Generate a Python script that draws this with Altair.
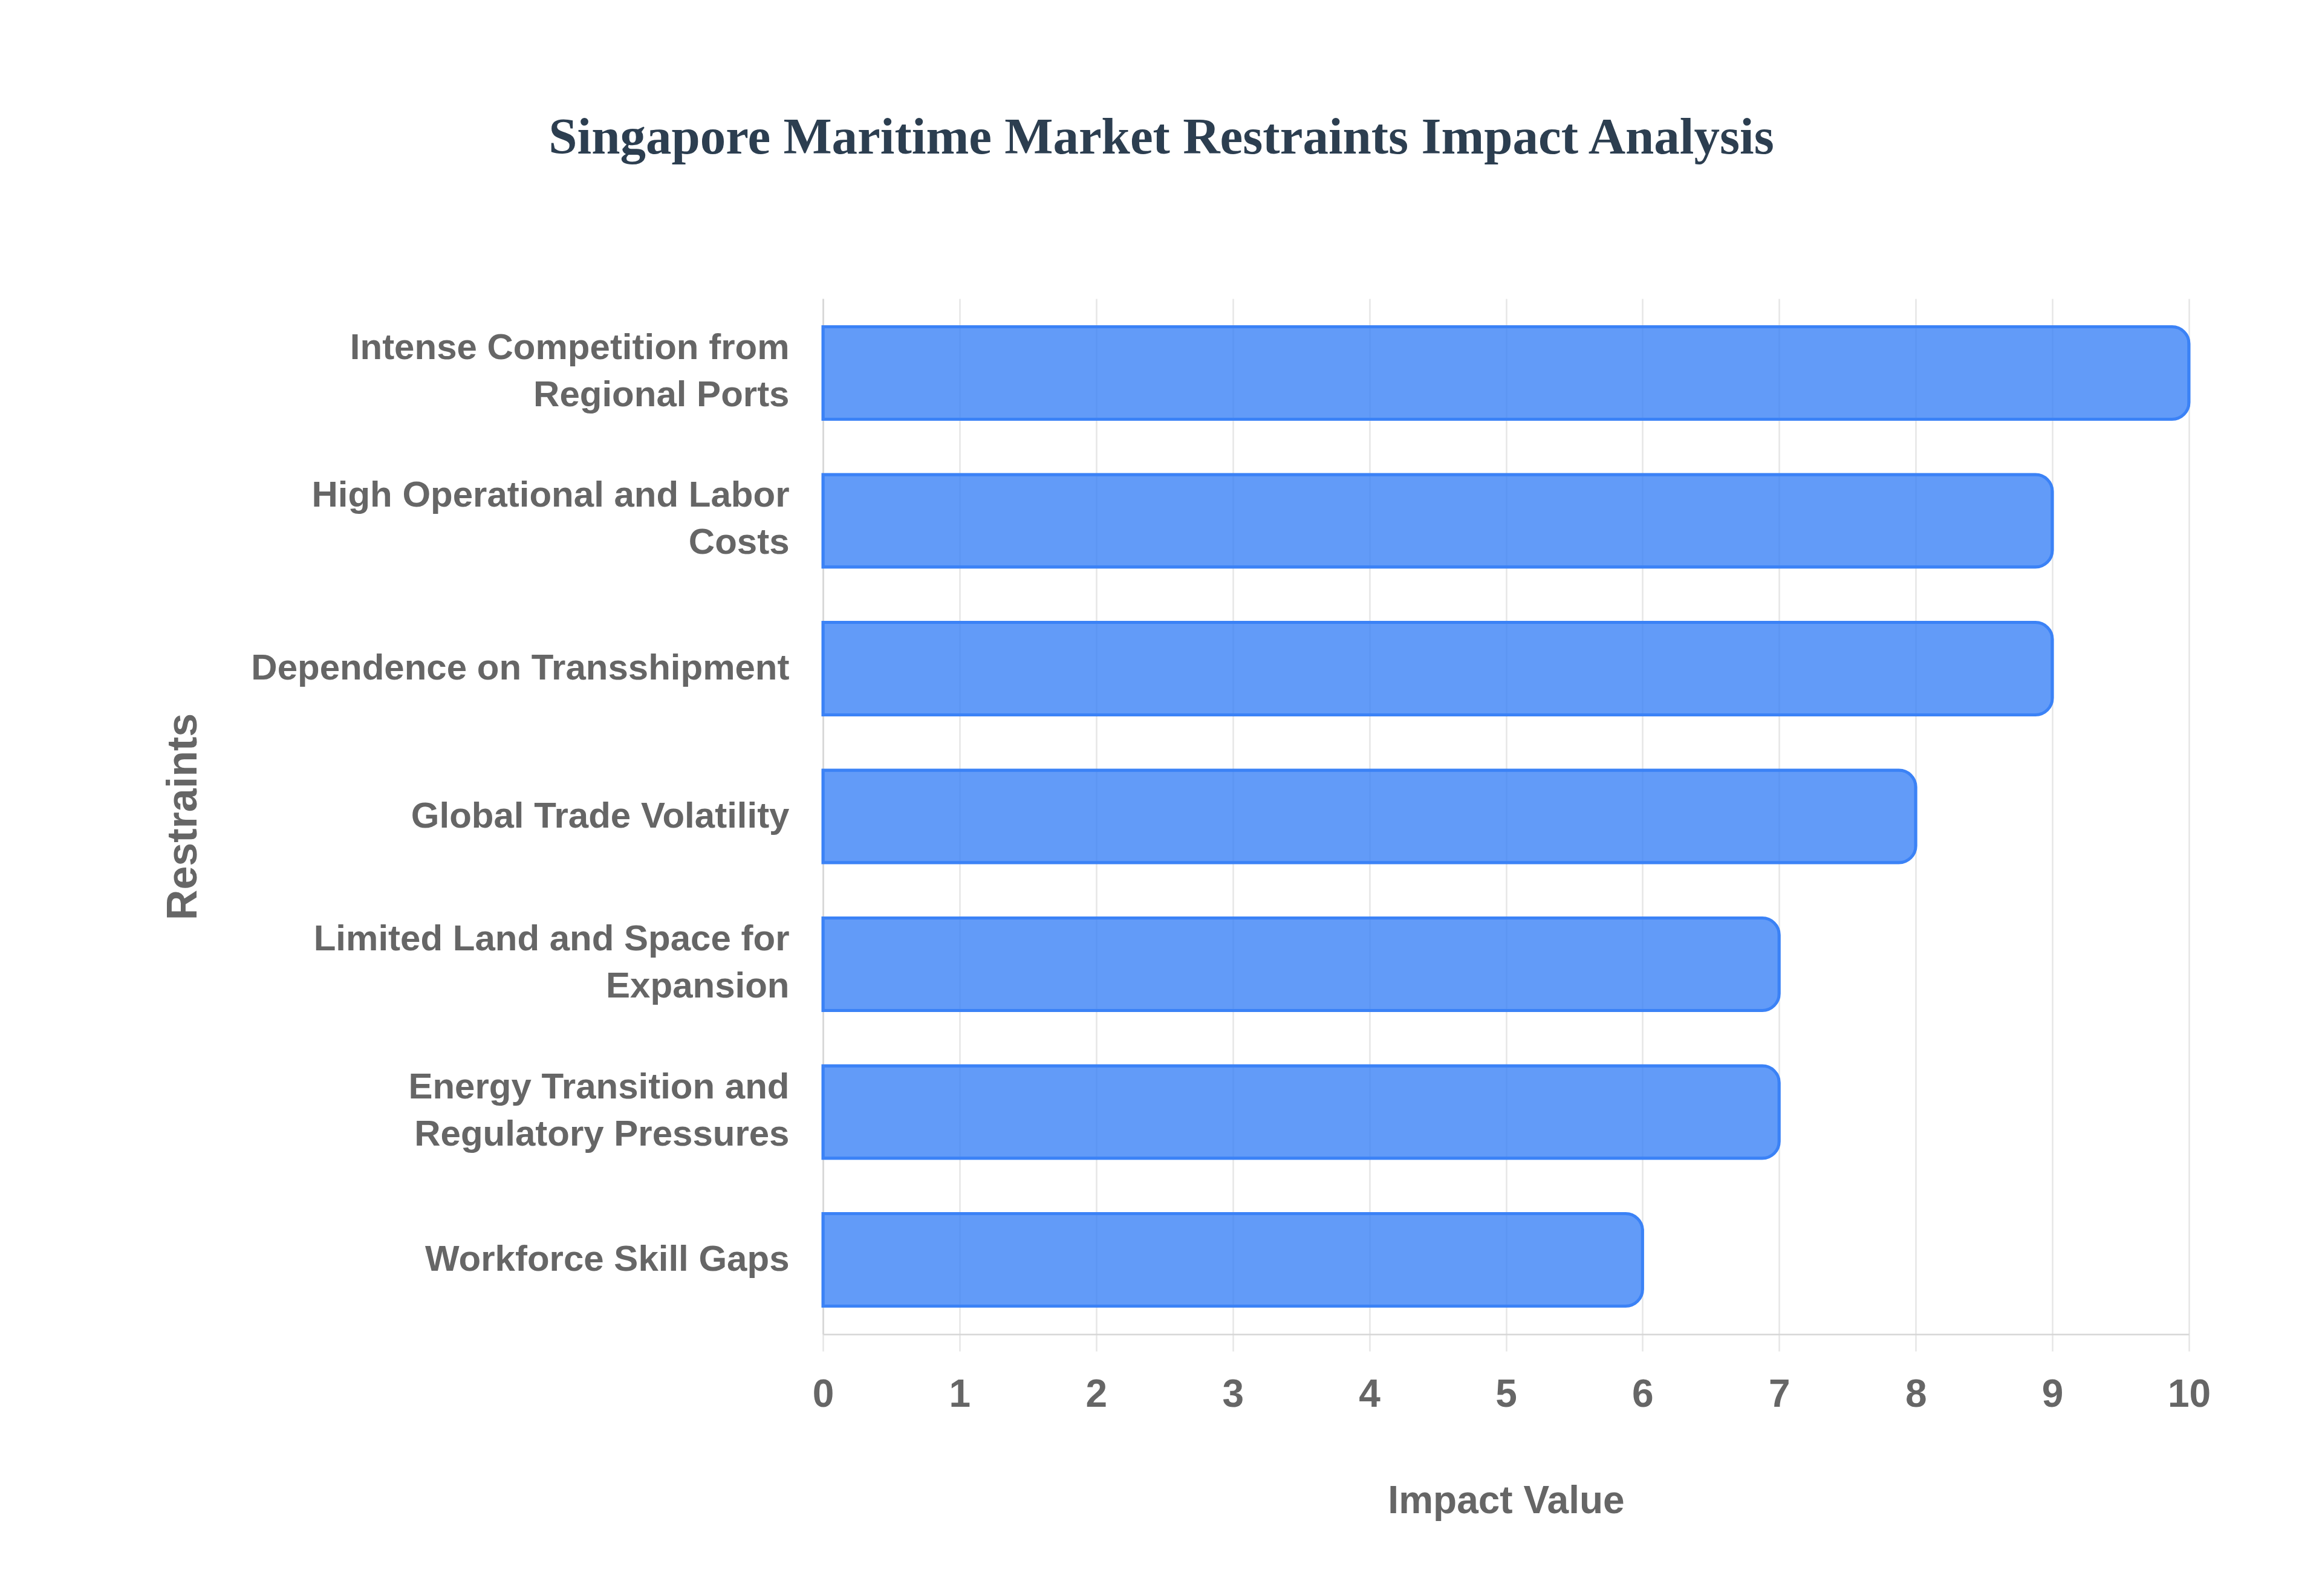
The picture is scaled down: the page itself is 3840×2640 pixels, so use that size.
import altair as alt
import pandas as pd

# ---- data ----
restraint_lines = [
    ["Intense Competition from", "Regional Ports"],
    ["High Operational and Labor", "Costs"],
    ["Dependence on Transshipment"],
    ["Global Trade Volatility"],
    ["Limited Land and Space for", "Expansion"],
    ["Energy Transition and", "Regulatory Pressures"],
    ["Workforce Skill Gaps"],
]
impact_values = [10, 9, 9, 8, 7, 7, 6]
x_ticks = [0, 1, 2, 3, 4, 5, 6, 7, 8, 9, 10]

chart_title = "Singapore Maritime Market Restraints Impact Analysis"
x_title = "Impact Value"
y_title = "Restraints"

df = pd.DataFrame({
    "Restraint": ["\n".join(lines) for lines in restraint_lines],
    "Impact": impact_values,
})

SANS = "Liberation Sans"
SERIF = "Liberation Serif"
GRAY = "#666666"
GRID = "#e6e6e6"
DOMAIN = "#d6d6d6"

W, H = 2259, 1713

chart = alt.Chart(df).mark_bar(
    fill="#3b82f6",
    fillOpacity=0.8,
    stroke="#3b82f6",
    strokeWidth=5,
    cornerRadiusEnd=28,
).encode(
    x=alt.X(
        "Impact:Q",
        scale=alt.Scale(domain=[0, 10], nice=False, zero=True),
        axis=alt.Axis(
            values=x_ticks,
            format="d",
            title=x_title,
            grid=True,
            gridColor=GRID,
            gridWidth=2.5,
            domainColor=DOMAIN,
            domainWidth=2.5,
            ticks=True,
            tickColor=GRID,
            tickWidth=2.5,
            tickSize=28,
            labelFont=SANS,
            labelFontSize=64,
            labelFontWeight="bold",
            labelColor=GRAY,
            labelPadding=40,
            labelFlush=False,
            titleFont=SANS,
            titleFontSize=64,
            titleFontWeight="bold",
            titleColor=GRAY,
            titleBaseline="alphabetic",
            titleY=295,
        ),
    ),
    y=alt.Y(
        "Restraint:N",
        sort=None,
        scale=alt.Scale(paddingInner=0.374, paddingOuter=0.19),
        axis=alt.Axis(
            title=y_title,
            grid=False,
            ticks=False,
            tickSize=0,
            domainColor=DOMAIN,
            domainWidth=2.5,
            labelFont=SANS,
            labelFontSize=60,
            labelFontWeight="bold",
            labelColor=GRAY,
            labelLineHeight=78,
            labelPadding=56,
            labelLimit=3000,
            labelExpr="split(datum.label, '\\n')",
            labelOffset={
                "condition": {"test": "indexof(datum.value, '\\n') >= 0", "value": -41},
                "value": 0,
            },
            titleFont=SANS,
            titleFontSize=70,
            titleFontWeight="bold",
            titleColor=GRAY,
            titleBaseline="alphabetic",
            titleX=-1037,
        ),
    ),
).properties(
    width=W,
    height=H,
    autosize=alt.AutoSizeParams(type="none"),
    padding={"left": 1353, "top": 486, "right": 200, "bottom": 400},
    background="white",
    title=alt.TitleParams(
        text=chart_title,
        font=SERIF,
        fontSize=85,
        fontWeight="bold",
        color="#2c3e50",
        anchor="middle",
        dx=-570,
        offset=222,
    ),
).configure_view(strokeWidth=0)

chart.save("out.html", embed_options={"renderer": "svg", "actions": False})
